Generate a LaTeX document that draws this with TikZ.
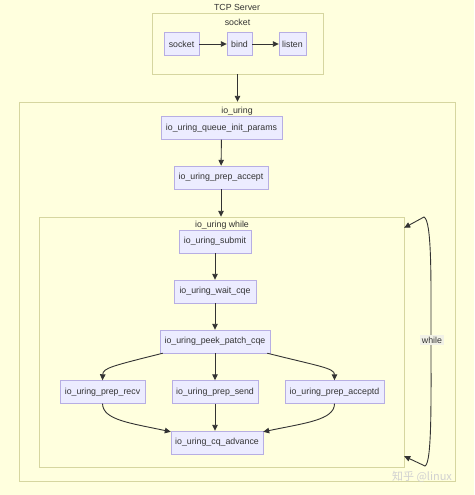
\documentclass[tikz,border=0pt]{standalone}
\usepackage{fontspec}
\setmainfont{Liberation Sans}
\newfontfamily\cjk{Noto Sans CJK SC}
\usetikzlibrary{arrows.meta}

\definecolor{clusterfill}{HTML}{FFFFDE}
\definecolor{clusterline}{HTML}{D6D6A0}
\definecolor{nodefill}{HTML}{ECECFF}
\definecolor{nodeline}{HTML}{B7AEE3}
\definecolor{textcol}{HTML}{333333}
\definecolor{labelfill}{HTML}{F1F1E6}

\begin{document}
\begin{tikzpicture}[x=1pt, y=-1pt,
  font=\fontsize{8.8}{10}\selectfont, text=textcol,
  fn/.style={draw=nodeline, fill=nodefill, minimum height=23, inner xsep=2, inner ysep=2},
  cluster/.style={draw=clusterline, fill=clusterfill, inner sep=0},
  flow/.style={-{Triangle[length=6pt,width=5.5pt]}, draw=textcol, line width=0.9pt}]

  % background = TCP Server
  \fill[clusterfill] (0,0) rectangle (474,495);
  \useasboundingbox (0,0) rectangle (474,495);
  \node (tcplabel) at (237,7) {TCP Server};

  % clusters
  \node[cluster, minimum width=171, minimum height=61] (socketbox) at (237.5,43.5) {};
  \node (socketlabel) at (237.5,22) {socket};
  \node[cluster, minimum width=436, minimum height=379] (uringbox) at (237,291.5) {};
  \node (uringlabel) at (237,111) {io\_uring};
  \node[cluster, minimum width=365, minimum height=250] (whilebox) at (221.5,342) {};
  \node (whilelabel) at (222,225) {io\_uring while};

  % socket nodes
  \node[fn, minimum width=35] (sock) at (181.5,44) {socket};
  \node[fn, minimum width=25] (bind) at (239.5,44) {bind};
  \node[fn, minimum width=27] (listen) at (292.5,44) {listen};

  % io_uring nodes
  \node[fn, minimum width=121] (initparams) at (221.5,128) {io\_uring\_queue\_init\_params};
  \node[fn, minimum width=94] (prepaccept) at (221,177.5) {io\_uring\_prep\_accept};
  \node[fn, minimum width=72] (submit) at (215,241.5) {io\_uring\_submit};
  \node[fn, minimum width=82] (waitcqe) at (215,291.5) {io\_uring\_wait\_cqe};
  \node[fn, minimum width=110] (peekcqe) at (215,341.5) {io\_uring\_peek\_patch\_cqe};
  \node[fn, minimum width=85] (preprecv) at (102.5,392) {io\_uring\_prep\_recv};
  \node[fn, minimum width=86] (prepsend) at (215,392) {io\_uring\_prep\_send};
  \node[fn, minimum width=99] (prepacceptd) at (334.5,392) {io\_uring\_prep\_acceptd};
  \node[fn, minimum width=92] (cqadvance) at (217,442.5) {io\_uring\_cq\_advance};

  % edges
  \draw[flow] (sock) -- (bind);
  \draw[flow] (bind) -- (listen);
  \draw[flow] (socketbox.south) -- (socketbox.south |- uringbox.north);
  \draw[flow] (initparams) -- (prepaccept);
  \draw[flow] (prepaccept.south) -- (prepaccept.south |- whilebox.north);
  \draw[flow] (submit) -- (waitcqe);
  \draw[flow] (waitcqe) -- (peekcqe);
  \draw[flow] ([xshift=3]peekcqe.south west) .. controls (112,366) and (103,368) .. (preprecv.north);
  \draw[flow] (peekcqe) -- (prepsend);
  \draw[flow] ([xshift=-3]peekcqe.south east) .. controls (318,366) and (334.5,368) .. (prepacceptd.north);
  \draw[flow] (preprecv.south) .. controls (103,420) and (130,423) .. ([yshift=-1]cqadvance.north west);
  \draw[flow] (prepsend.south) -- (prepsend.south |- cqadvance.north);
  \draw[flow] (prepacceptd.south) .. controls (334.5,420) and (305,423) .. ([yshift=-1]cqadvance.north east);

  % while loop
  \draw[flow, {Triangle[length=6pt,width=5.5pt]}-{Triangle[length=6pt,width=5.5pt]}]
    ([yshift=11]whilebox.south east) -- (425,466)
    .. controls (432,463) and (431,400) .. (431,342)
    .. controls (431,280) and (432,221) .. (424,217) -- ([yshift=-11]whilebox.north east);
  \node[fill=labelfill, inner sep=1.5] (whileedge) at (432,340) {while};

  % watermark
  \node[text=black!18] (mark) at (422,477) {\fontsize{11}{12}\selectfont\cjk 知乎 @linux};

\end{tikzpicture}
\end{document}
